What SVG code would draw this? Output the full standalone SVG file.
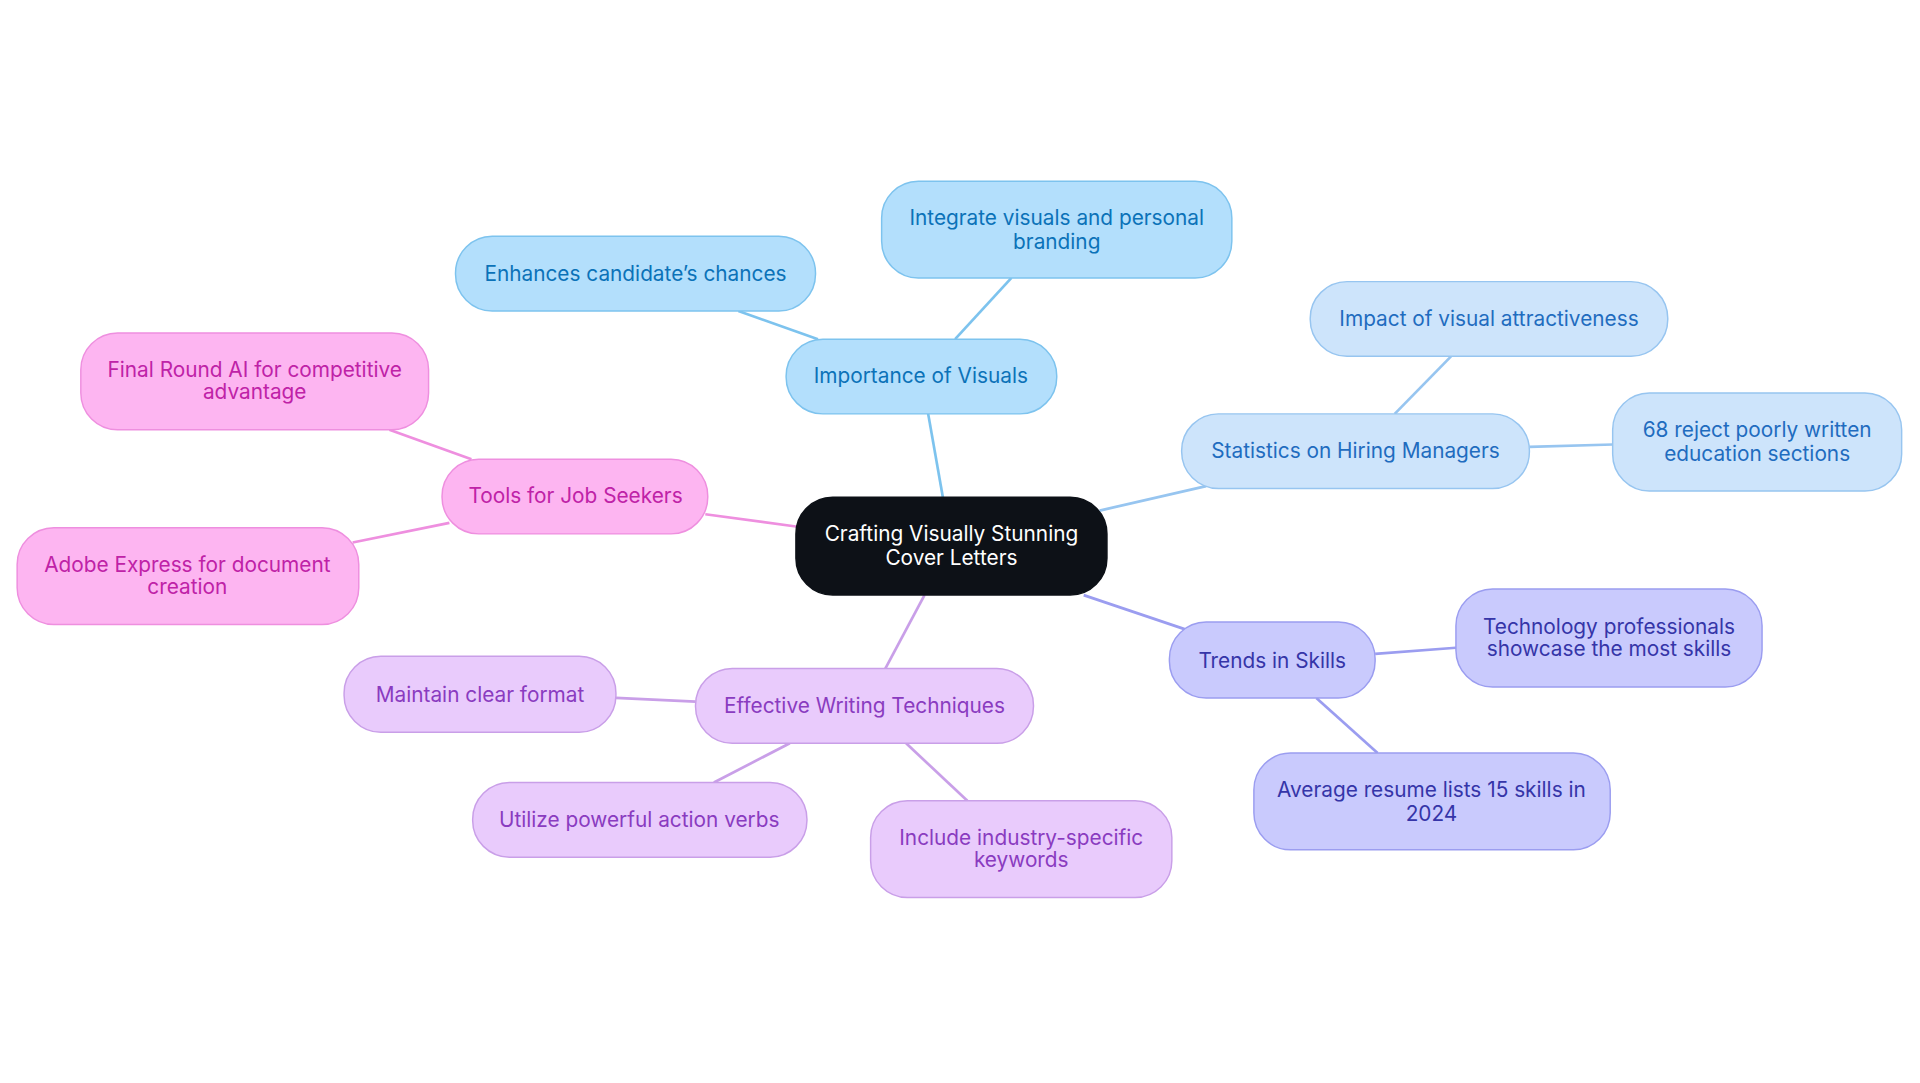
<svg xmlns="http://www.w3.org/2000/svg" width="1920" height="1083" viewBox="0 0 1920 1083">
<style>
text{font-family:Inter,"Noto Sans",sans-serif;font-size:17px;text-anchor:middle;dominant-baseline:central}
.b rect{fill:#b3dffc;stroke:#7dc3ee}.b text{fill:#0b72b8}
.s rect{fill:#cde4fb;stroke:#97c5f0}.s text{fill:#1f6cbf}
.t rect{fill:#c9cafd;stroke:#9b9df0}.t text{fill:#3535a8}
.e rect{fill:#e9cbfc;stroke:#c99fe8}.e text{fill:#8a3bc0}
.p rect{fill:#fdb5f1;stroke:#ee8fdf}.p text{fill:#bf22a7}
rect{stroke-width:1.2}
#edges line{stroke-width:2.2}
</style>
<rect width="1920" height="1083" fill="#fff"/>
<g transform="scale(1.2245)">
<g id="edges">
<line x1="770" y1="406" x2="758" y2="338" stroke="#7dc3ee"/>
<line x1="668" y1="277" x2="603" y2="254" stroke="#7dc3ee"/>
<line x1="780" y1="277" x2="826" y2="227" stroke="#7dc3ee"/>
<line x1="898" y1="417" x2="985" y2="397" stroke="#97c5f0"/>
<line x1="1139" y1="338" x2="1185" y2="291" stroke="#97c5f0"/>
<line x1="1249" y1="365" x2="1317" y2="363" stroke="#97c5f0"/>
<line x1="885" y1="486" x2="968" y2="514" stroke="#9b9df0"/>
<line x1="1123" y1="534" x2="1189" y2="529" stroke="#9b9df0"/>
<line x1="1075" y1="570" x2="1125" y2="615" stroke="#9b9df0"/>
<line x1="755" y1="486" x2="723" y2="546" stroke="#c99fe8"/>
<line x1="568" y1="573" x2="503" y2="570" stroke="#c99fe8"/>
<line x1="645" y1="607" x2="583" y2="639" stroke="#c99fe8"/>
<line x1="740" y1="607" x2="790" y2="654" stroke="#c99fe8"/>
<line x1="650" y1="430" x2="576" y2="420" stroke="#ee8fdf"/>
<line x1="385" y1="375" x2="318" y2="351" stroke="#ee8fdf"/>
<line x1="367" y1="427" x2="288" y2="443" stroke="#ee8fdf"/>
</g>
<g id="center"><rect x="650" y="406" width="254" height="80" rx="30" fill="#0d1117" stroke="#0d1117"/><text x="777" y="436" fill="#fff">Crafting Visually Stunning</text><text x="777" y="455" fill="#fff">Cover Letters</text></g>
<g id="n1" class="b"><rect x="642" y="277" width="221" height="61" rx="30"/><text x="752" y="307">Importance of Visuals</text></g>
<g id="n2" class="b"><rect x="372" y="193" width="294" height="61" rx="30"/><text x="519" y="223">Enhances candidate’s chances</text></g>
<g id="n3" class="b"><rect x="720" y="148" width="286" height="79" rx="30"/><text x="863" y="178">Integrate visuals and personal</text><text x="863" y="197">branding</text></g>
<g id="n4" class="s"><rect x="965" y="338" width="284" height="61" rx="30"/><text x="1107" y="368">Statistics on Hiring Managers</text></g>
<g id="n5" class="s"><rect x="1070" y="230" width="292" height="61" rx="30"/><text x="1216" y="260">Impact of visual attractiveness</text></g>
<g id="n6" class="s"><rect x="1317" y="321" width="236" height="80" rx="30"/><text x="1435" y="351">68 reject poorly written</text><text x="1435" y="370">education sections</text></g>
<g id="n7" class="t"><rect x="955" y="508" width="168" height="62" rx="30"/><text x="1039" y="539">Trends in Skills</text></g>
<g id="n8" class="t"><rect x="1189" y="481" width="250" height="80" rx="30"/><text x="1314" y="512">Technology professionals</text><text x="1314" y="530">showcase the most skills</text></g>
<g id="n9" class="t"><rect x="1024" y="615" width="291" height="79" rx="30"/><text x="1169" y="645">Average resume lists 15 skills in</text><text x="1169" y="664">2024</text></g>
<g id="n10" class="e"><rect x="568" y="546" width="276" height="61" rx="30"/><text x="706" y="576">Effective Writing Techniques</text></g>
<g id="n11" class="e"><rect x="281" y="536" width="222" height="62" rx="30"/><text x="392" y="567">Maintain clear format</text></g>
<g id="n12" class="e"><rect x="386" y="639" width="273" height="61" rx="30"/><text x="522" y="669">Utilize powerful action verbs</text></g>
<g id="n13" class="e"><rect x="711" y="654" width="246" height="79" rx="30"/><text x="834" y="684">Include industry-specific</text><text x="834" y="702">keywords</text></g>
<g id="n14" class="p"><rect x="361" y="375" width="217" height="61" rx="30"/><text x="470" y="405">Tools for Job Seekers</text></g>
<g id="n15" class="p"><rect x="66" y="272" width="284" height="79" rx="30"/><text x="208" y="302">Final Round AI for competitive</text><text x="208" y="320">advantage</text></g>
<g id="n16" class="p"><rect x="14" y="431" width="279" height="79" rx="30"/><text x="153" y="461">Adobe Express for document</text><text x="153" y="479">creation</text></g>
</g>
</svg>
